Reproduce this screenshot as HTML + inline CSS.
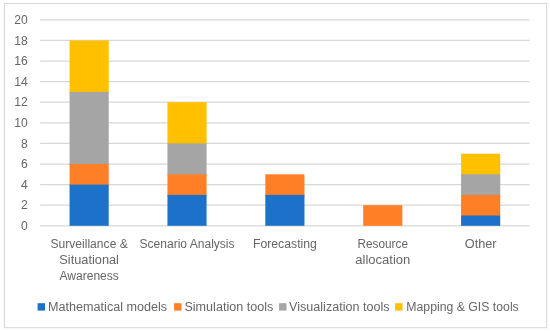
<!DOCTYPE html>
<html><head><meta charset="utf-8"><title>Chart</title>
<style>
html,body{margin:0;padding:0;background:#fff;}
svg{display:block;}
text{font-family:"Liberation Sans",sans-serif;font-size:12px;fill:#666666;}
</style></head><body>
<svg width="550" height="333" viewBox="0 0 550 333">
<rect x="0" y="0" width="550" height="333" fill="#ffffff"/>
<rect x="4.45" y="3.5" width="542.25" height="324.2" fill="#ffffff" stroke="#d9d9d9" stroke-width="1.15"/>

<line x1="40.20" y1="225.80" x2="529.60" y2="225.80" stroke="#d7d7d7" stroke-width="1.25"/>
<line x1="40.20" y1="205.20" x2="529.60" y2="205.20" stroke="#d7d7d7" stroke-width="1.25"/>
<line x1="40.20" y1="184.60" x2="529.60" y2="184.60" stroke="#d7d7d7" stroke-width="1.25"/>
<line x1="40.20" y1="164.00" x2="529.60" y2="164.00" stroke="#d7d7d7" stroke-width="1.25"/>
<line x1="40.20" y1="143.40" x2="529.60" y2="143.40" stroke="#d7d7d7" stroke-width="1.25"/>
<line x1="40.20" y1="122.80" x2="529.60" y2="122.80" stroke="#d7d7d7" stroke-width="1.25"/>
<line x1="40.20" y1="102.20" x2="529.60" y2="102.20" stroke="#d7d7d7" stroke-width="1.25"/>
<line x1="40.20" y1="81.60" x2="529.60" y2="81.60" stroke="#d7d7d7" stroke-width="1.25"/>
<line x1="40.20" y1="61.00" x2="529.60" y2="61.00" stroke="#d7d7d7" stroke-width="1.25"/>
<line x1="40.20" y1="40.40" x2="529.60" y2="40.40" stroke="#d7d7d7" stroke-width="1.25"/>
<line x1="40.20" y1="19.80" x2="529.60" y2="19.80" stroke="#d7d7d7" stroke-width="1.25"/>
<text x="20.94" y="230.05" textLength="6.76" lengthAdjust="spacingAndGlyphs">0</text>
<text x="20.94" y="209.45" textLength="6.76" lengthAdjust="spacingAndGlyphs">2</text>
<text x="20.94" y="188.85" textLength="6.76" lengthAdjust="spacingAndGlyphs">4</text>
<text x="20.94" y="168.25" textLength="6.76" lengthAdjust="spacingAndGlyphs">6</text>
<text x="20.94" y="147.65" textLength="6.76" lengthAdjust="spacingAndGlyphs">8</text>
<text x="14.18" y="127.05" textLength="13.52" lengthAdjust="spacingAndGlyphs">10</text>
<text x="14.18" y="106.45" textLength="13.52" lengthAdjust="spacingAndGlyphs">12</text>
<text x="14.18" y="85.85" textLength="13.52" lengthAdjust="spacingAndGlyphs">14</text>
<text x="14.18" y="65.25" textLength="13.52" lengthAdjust="spacingAndGlyphs">16</text>
<text x="14.18" y="44.65" textLength="13.52" lengthAdjust="spacingAndGlyphs">18</text>
<text x="14.18" y="24.05" textLength="13.52" lengthAdjust="spacingAndGlyphs">20</text>
<rect x="69.56" y="40.40" width="39.15" height="52.50" fill="#ffc000"/>
<rect x="69.56" y="91.90" width="39.15" height="73.10" fill="#a5a5a5"/>
<rect x="69.56" y="164.00" width="39.15" height="21.60" fill="#ff7f27"/>
<rect x="69.56" y="184.60" width="39.15" height="41.20" fill="#1b72c8"/>
<rect x="167.44" y="102.20" width="39.15" height="42.20" fill="#ffc000"/>
<rect x="167.44" y="143.40" width="39.15" height="31.90" fill="#a5a5a5"/>
<rect x="167.44" y="174.30" width="39.15" height="21.60" fill="#ff7f27"/>
<rect x="167.44" y="194.90" width="39.15" height="30.90" fill="#1b72c8"/>
<rect x="265.32" y="174.30" width="39.15" height="21.60" fill="#ff7f27"/>
<rect x="265.32" y="194.90" width="39.15" height="30.90" fill="#1b72c8"/>
<rect x="363.20" y="205.20" width="39.15" height="20.60" fill="#ff7f27"/>
<rect x="461.08" y="153.70" width="39.15" height="21.60" fill="#ffc000"/>
<rect x="461.08" y="174.30" width="39.15" height="21.60" fill="#a5a5a5"/>
<rect x="461.08" y="194.90" width="39.15" height="21.60" fill="#ff7f27"/>
<rect x="461.08" y="215.50" width="39.15" height="10.30" fill="#1b72c8"/>
<text x="50.45" y="247.60" textLength="77.38" lengthAdjust="spacingAndGlyphs">Surveillance &amp;</text>
<text x="59.32" y="263.87" textLength="59.63" lengthAdjust="spacingAndGlyphs">Situational</text>
<text x="59.41" y="280.14" textLength="59.46" lengthAdjust="spacingAndGlyphs">Awareness</text>
<text x="139.47" y="247.60" textLength="95.11" lengthAdjust="spacingAndGlyphs">Scenario Analysis</text>
<text x="252.92" y="247.60" textLength="63.97" lengthAdjust="spacingAndGlyphs">Forecasting</text>
<text x="357.57" y="247.60" textLength="50.41" lengthAdjust="spacingAndGlyphs">Resource</text>
<text x="355.28" y="263.87" textLength="54.99" lengthAdjust="spacingAndGlyphs">allocation</text>
<text x="464.72" y="247.60" textLength="31.88" lengthAdjust="spacingAndGlyphs">Other</text>
<rect x="37.60" y="303.2" width="7.4" height="7.4" fill="#1b72c8"/>
<text x="48.10" y="310.8" textLength="118.99" lengthAdjust="spacingAndGlyphs">Mathematical models</text>
<rect x="174.10" y="303.2" width="7.4" height="7.4" fill="#ff7f27"/>
<text x="184.40" y="310.8" textLength="88.92" lengthAdjust="spacingAndGlyphs">Simulation tools</text>
<rect x="279.10" y="303.2" width="7.4" height="7.4" fill="#a5a5a5"/>
<text x="289.10" y="310.8" textLength="100.41" lengthAdjust="spacingAndGlyphs">Visualization tools</text>
<rect x="395.10" y="303.2" width="7.4" height="7.4" fill="#ffc000"/>
<text x="406.30" y="310.8" textLength="112.44" lengthAdjust="spacingAndGlyphs">Mapping &amp; GIS tools</text>
</svg></body></html>
